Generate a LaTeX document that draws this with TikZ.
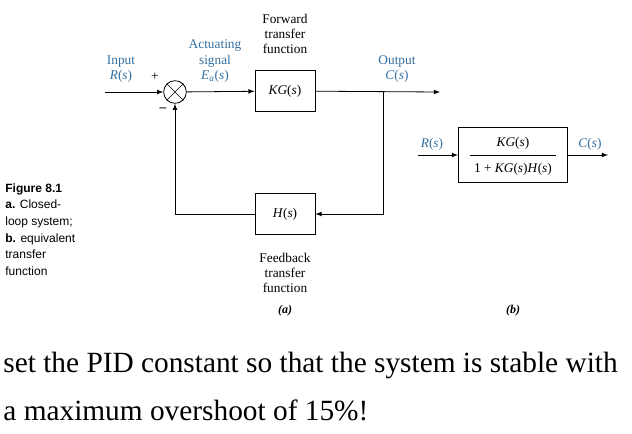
\documentclass[tikz,border=0pt]{standalone}
\usepackage{fontspec}
\setmainfont{Liberation Serif}
\newfontfamily\figsans{Liberation Sans}
\usetikzlibrary{positioning}
\definecolor{lblue}{RGB}{50,110,160}
\newcommand{\fn}[2]{\textit{#1}(\textit{#2})}
\begin{document}
\begin{tikzpicture}[x=0.75pt, y=-0.75pt, >=latex, semithick,
    blk/.style={draw, semithick, minimum width=45pt, minimum height=31pt, inner sep=0pt},
    lbl/.style={font=\fontsize{10}{11.5}\selectfont, align=center, inner sep=0pt},
    sig/.style={lbl, text=lblue}]
    \useasboundingbox (0,0) rectangle (632,433);
    % (a) closed loop
    \node (sum) [draw, semithick, circle, minimum size=17pt, inner sep=0pt] at (175,92) {};
    \draw [thin] (sum.north west) -- (sum.south east) (sum.north east) -- (sum.south west);
    \node (KG) [blk] at (285,91) {\fontsize{10}{12}\selectfont \textit{KG}(\textit{s})};
    \node (H) [blk] at (285,214) {\fontsize{10}{12}\selectfont \fn{H}{s}};
    \coordinate (in) at (105,92);
    \coordinate (out) at (440,92);
    \coordinate (br) at (383,92);
    \coordinate (brd) at (383,214);
    \coordinate (lft) at (175,214);
    \draw [->] (in) -- (sum);
    \draw [->] (sum) -- (KG);
    \draw [->] (KG) -- (out);
    \draw [->] (br) -- (brd) -- (H);
    \draw [->] (H) -- (lft) -- (sum);
    \node (inlbl) [sig] at (121,69) {Input\\\fn{R}{s}};
    \node (plus) [lbl] at (155,77) {+};
    \node (minus) [lbl] at (163,110) {\textbf{--}};
    \node (ealbl) [sig] at (215,61) {Actuating\\signal\\\textit{E}\textsubscript{\textit{a}}(\textit{s})};
    \node (outlbl) [sig] at (397,69) {Output\\\fn{C}{s}};
    \node (fwd) [lbl] at (285,34) {Forward\\transfer\\function};
    \node (fb) [lbl] at (285,273) {Feedback\\transfer\\function};
    \node (a) [lbl] at (285,311) {\small\bfseries\itshape(a)};
    % (b) equivalent
    \node (eq) [draw, semithick, minimum width=82pt, minimum height=41pt, inner sep=0pt] at (513,155) {};
    \node (num) [lbl] at (513,143) {\textit{KG}(\textit{s})};
    \node (den) [lbl] at (513,169) {1 + \textit{KG}(\textit{s})\textit{H}(\textit{s})};
    \draw [thin] (470,155) -- (556,155);
    \coordinate (rin) at (418,155);
    \coordinate (cout) at (608,155);
    \draw [->] (rin) -- (eq);
    \draw [->] (eq) -- (cout);
    \node (rlbl) [sig] at (432,144) {\fn{R}{s}};
    \node (clbl) [sig] at (590,144) {\fn{C}{s}};
    \node (b) [lbl] at (513,311) {\small\bfseries\itshape(b)};
    % caption
    \node (cap) [anchor=north west, align=left, inner sep=0pt,
        font=\figsans\fontsize{9}{12.5}\selectfont] at (5,183)
        {\textbf{Figure 8.1}\\\textbf{a.} Closed-\\loop system;\\\textbf{b.} equivalent\\transfer\\function};
    % question
    \node (q) [anchor=west, inner sep=0pt, font=\fontsize{22}{26}\selectfont] at (3,365)
        {set the PID constant so that the system is stable with};
    \node (q2) [anchor=west, inner sep=0pt, font=\fontsize{22}{26}\selectfont] at (3,410)
        {a maximum overshoot of 15\%!};
\end{tikzpicture}
\end{document}
